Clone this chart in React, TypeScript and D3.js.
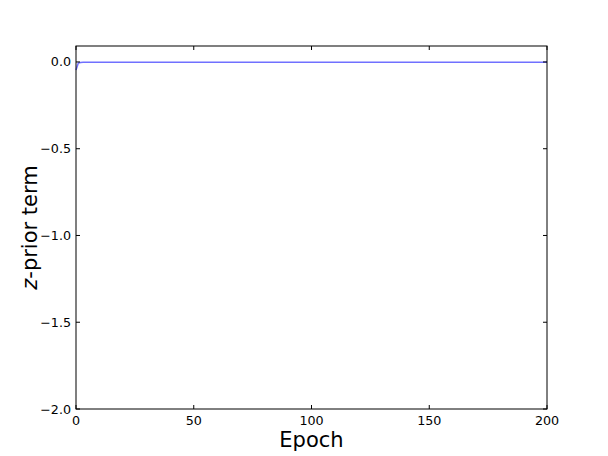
import * as React from 'react';
import * as d3 from 'd3';

const epochs = [0, 1, 2, 3, 5, 10, 20, 40, 60, 80, 100, 120, 140, 160, 180, 200];
const priorTerm = [-0.046, -0.006, -0.003, -0.002, -0.002, -0.002, -0.002, -0.002, -0.002, -0.002, -0.002, -0.002, -0.002, -0.002, -0.002, -0.002];
const xTicks = [0, 50, 100, 150, 200];
const yTicks = [0.0, -0.5, -1.0, -1.5, -2.0];

const width = 608;
const height = 456;
const margin = { top: 46, right: 61, bottom: 47, left: 76 };
const font = 'DejaVu Sans, sans-serif';

export default function App() {
  const x = d3.scaleLinear().domain([0, 200]).range([margin.left, width - margin.right]);
  const y = d3.scaleLinear().domain([-2.0, 0.092]).range([height - margin.bottom, margin.top]);

  const line = d3.line<number>()
    .x((d, i) => x(epochs[i]))
    .y(d => y(d));

  const x0 = x(0), x1 = x(200), y0 = y(-2.0), y1 = y(0.092);
  const tick = 4;
  const fmt = (v: number) => v.toFixed(1).replace('-', '\u2212');

  return (
    <svg width={width} height={height} style={{ position: 'absolute', left: 0, top: 0 }}>
      <rect x={0} y={0} width={width} height={height} fill="#fff" />
      <path d={line(priorTerm) || ''} fill="none" stroke="#3333ff" strokeWidth={1.5} strokeOpacity={0.7} />
      <rect x={x0} y={y1} width={x1 - x0} height={y0 - y1} fill="none" stroke="#000" strokeWidth={1} />
      {xTicks.map(t => (
        <g key={'x' + t}>
          <line x1={x(t)} x2={x(t)} y1={y0} y2={y0 - tick} stroke="#000" />
          <line x1={x(t)} x2={x(t)} y1={y1} y2={y1 + tick} stroke="#000" />
          <text x={x(t)} y={y0 + 16} textAnchor="middle" fontFamily={font} fontSize={12.7}>{t}</text>
        </g>
      ))}
      {yTicks.map(t => (
        <g key={'y' + t}>
          <line x1={x0} x2={x0 + tick} y1={y(t)} y2={y(t)} stroke="#000" />
          <line x1={x1} x2={x1 - tick} y1={y(t)} y2={y(t)} stroke="#000" />
          <text x={x0 - 5} y={y(t) + 4.5} textAnchor="end" fontFamily={font} fontSize={12.7}>{fmt(t)}</text>
        </g>
      ))}
      <text x={(x0 + x1) / 2} y={447} textAnchor="middle" fontFamily={font} fontSize={21}>Epoch</text>
      <text transform={`translate(37,${(y0 + y1) / 2}) rotate(-90)`} textAnchor="middle" fontFamily={font} fontSize={21}>
        <tspan fontStyle="italic">z</tspan>-prior term
      </text>
    </svg>
  );
}
